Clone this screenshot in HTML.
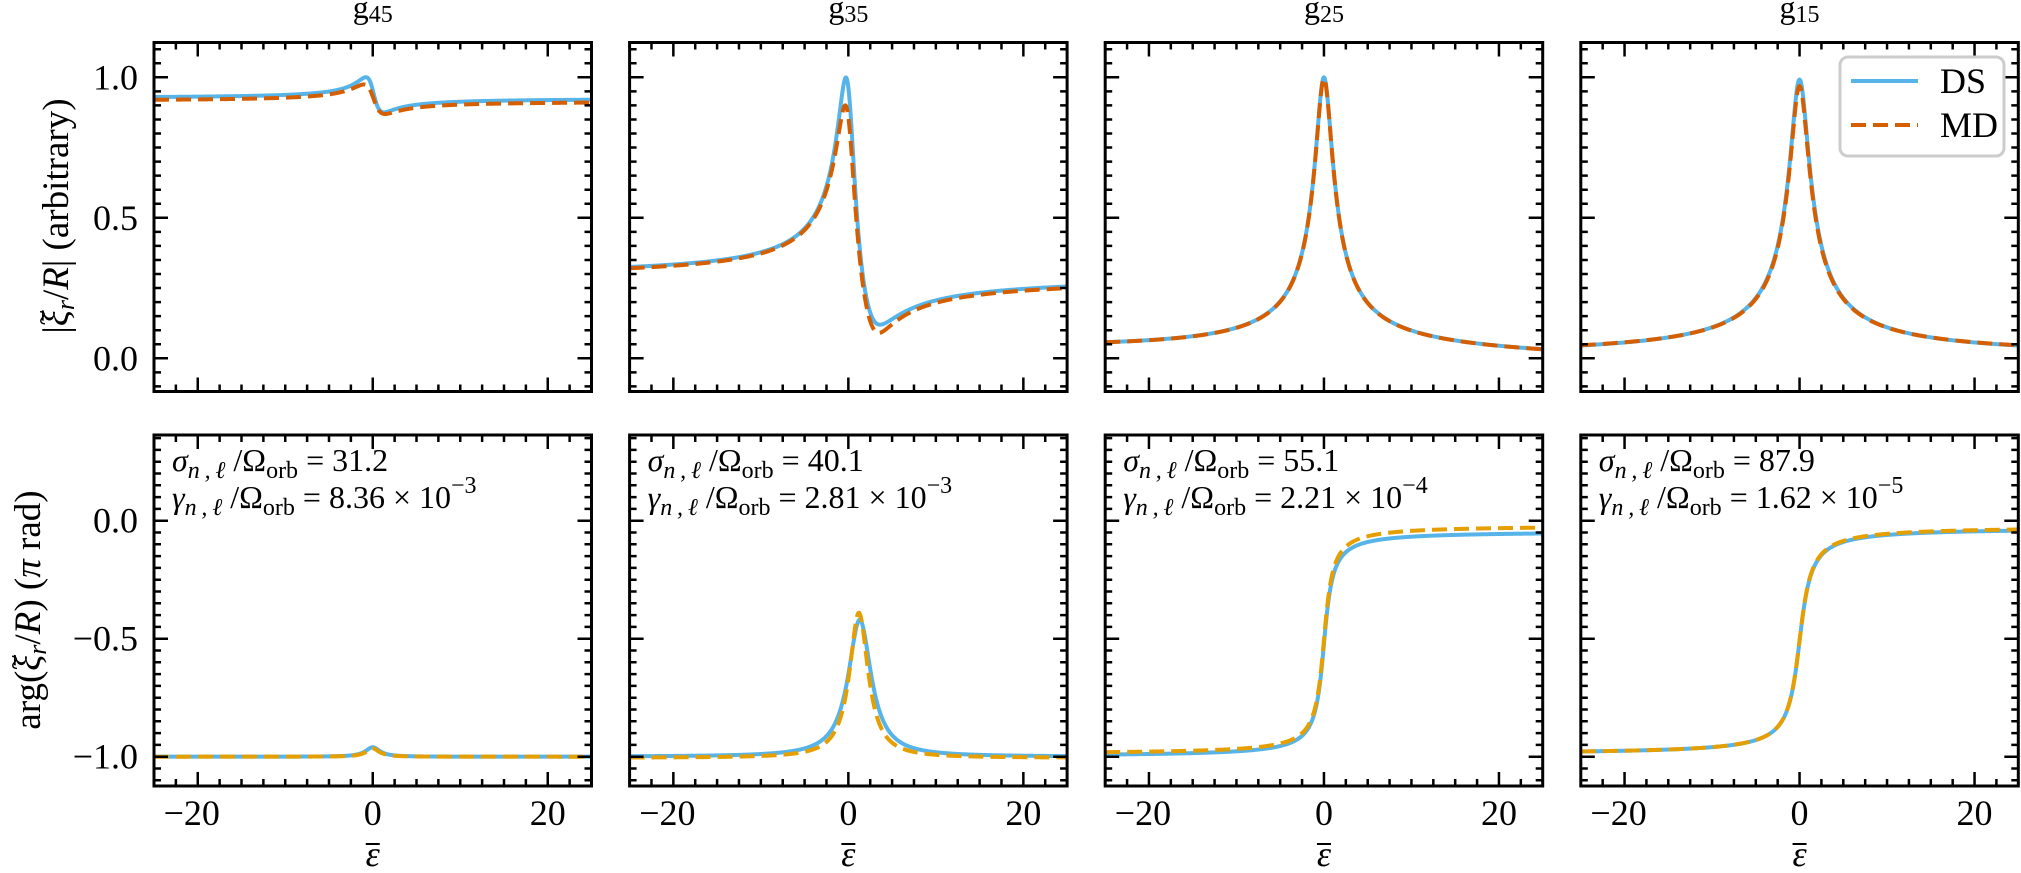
<!DOCTYPE html>
<html><head><meta charset="utf-8"><style>
html,body{margin:0;padding:0;background:#fff;}
svg{display:block;font-family:"Liberation Serif",serif;}
</style></head><body>
<svg id="s" width="2021" height="873" viewBox="0 0 2021 873" xmlns="http://www.w3.org/2000/svg"></svg>
<script>
const S=document.getElementById('s');
const NS='http://www.w3.org/2000/svg';
function el(t,a,p){const e=document.createElementNS(NS,t);for(const k in a)e.setAttribute(k,a[k]);(p||S).appendChild(e);return e;}
const L0=154,DX=475.6,W=437.5;
const rows=[{top:42.5,bot:391.5,z:358.3,k:281},{top:435,bot:786,z:520.7,k:236}];
function X(i,e){return L0+i*DX+(e+25)/50*W;}
function Y(r,v){return rows[r].z-rows[r].k*v;}
function fano(e,c,A,th,w){const x=e/w;const b=2*Math.atan(x);
 const re=c+A/2*Math.cos(th)+A/2*Math.cos(th+b);const im=A/2*Math.sin(th)+A/2*Math.sin(th+b);
 return [Math.hypot(re,im),Math.atan2(im,re)];}
const d2r=Math.PI/180;
const BLUE='#56B4E9',VER='#D55E00',ORA='#E69F00';
const fns=[
 [[e=>fano(e,0.925,0.125,80*d2r,1)[0], e=>fano(e,0.915,0.105,84*d2r,1.2)[0]],
  [e=>fano(e,0.29,0.88,82*d2r,1)[0], e=>fano(e,0.285,0.81,90*d2r,1.1)[0]],
  [e=>0.995/Math.sqrt(1+e*e)+0.005-0.0005*e, e=>0.99/Math.sqrt(1+e*e)+0.005-0.0005*e],
  [e=>0.99/Math.sqrt(1+(e/1.1)**2)+0.002, e=>0.965/Math.sqrt(1+(e/1.1)**2)+0.004]],
 [[e=>-1+0.04/(1+e*e), e=>-1+0.035/(1+(e/0.9)**2)],
  [e=>-1+0.58/(1+((e-1.3)/1.6)**2), e=>-1.005+0.615/(1+((e-1.2)/1.3)**2)],
  [e=>-1+0.955*(0.5+Math.atan(e/0.75)/Math.PI), e=>-0.99+0.97*(0.5+Math.atan(e/0.75)/Math.PI)],
  [e=>-0.99+0.96*(0.5+Math.atan(e/1.0)/Math.PI), e=>-0.99+0.965*(0.5+Math.atan(e/1.0)/Math.PI)]]
];
const defs=el('defs',{});
for(let r=0;r<2;r++)for(let i=0;i<4;i++){
 const cp=el('clipPath',{id:'c'+r+i},defs);
 el('rect',{x:L0+i*DX,y:rows[r].top,width:W,height:rows[r].bot-rows[r].top},cp);
}
for(let r=0;r<2;r++)for(let i=0;i<4;i++){
 for(let s=0;s<2;s++){
  let d='';
  for(let n=0;n<=1000;n++){const e=-25+50*n/1000;d+=(n?'L':'M')+X(i,e).toFixed(2)+','+Y(r,fns[r][i][s](e)).toFixed(2);}
  const a={d:d,fill:'none','stroke-width':4,'clip-path':'url(#c'+r+i+')','stroke-linejoin':'round'};
  if(s==0){a.stroke=BLUE;}else{a.stroke=r?ORA:VER;a['stroke-dasharray']='15,7';}
  el('path',a);
 }
 const x0=L0+i*DX,x1=x0+W,y0=rows[r].top,y1=rows[r].bot;
 let t='';
 for(let e=-25;e<=25.01;e+=2.5){const x=X(i,e);const maj=Math.abs(e%20)<0.01;const len=maj?14:7;
  t+=`M${x},${y1}v${-len}M${x},${y0}v${len}`;}
 const vmin=r?-1.1:-0.1,vmax=r?0.35:1.1;
 for(let v=vmin;v<=vmax+0.001;v+=0.05){const vv=Math.round(v*100)/100;const y=Y(r,vv);if(y<y0||y>y1)continue;
  const maj=Math.abs(Math.round(vv*100)%50)<1;const len=maj?14:7;
  t+=`M${x0},${y}h${len}M${x1},${y}h${-len}`;}
 el('path',{d:t,stroke:'#000','stroke-width':2.5,fill:'none'});
 el('rect',{x:x0,y:y0,width:W,height:y1-y0,fill:'none',stroke:'#000','stroke-width':3});
}
function txt(x,y,s,a){const e=el('text',Object.assign({x:x,y:y,'font-size':34},a||{}));e.innerHTML=s;return e;}
[['1.0',1],['0.5',0.5],['0.0',0]].forEach(([s,v])=>txt(138,Y(0,v)+12,s,{'text-anchor':'end','font-size':36}));
[['0.0',0],['\u22120.5',-0.5],['\u22121.0',-1]].forEach(([s,v])=>txt(138,Y(1,v)+12,s,{'text-anchor':'end','font-size':36}));
for(let i=0;i<4;i++){[['\u221220',-20],['0',0],['20',20]].forEach(([s,v])=>txt(X(i,v)+(v<0?-6:0),825,s,{'text-anchor':'middle','font-size':36}));
 txt(X(i,0),866,'<tspan font-style="italic">\u03B5</tspan>',{'text-anchor':'middle','font-size':36});
 el('path',{d:`M${X(i,0)-7},844h14`,stroke:'#000','stroke-width':2});}
['45','35','25','15'].forEach((s,i)=>txt(X(i,0),18,'g<tspan font-size="24" dy="4">'+s+'</tspan>',{'text-anchor':'middle','font-size':32}));
const xi='<tspan font-style="italic">\u03BE</tspan><tspan dx="-15" dy="-16" font-size="28">~</tspan><tspan font-size="26" dy="22" font-style="italic">r</tspan><tspan dy="-6">/</tspan><tspan font-style="italic">R</tspan>';
txt(0,0,'|'+xi+'| (arbitrary)',{'text-anchor':'middle','font-size':37,transform:'translate(68,216) rotate(-90)'});
txt(0,0,'arg('+xi+') (<tspan font-style="italic">\u03C0</tspan> rad)',{'text-anchor':'middle','font-size':37,transform:'translate(40,610) rotate(-90)'});
const ann=[['31.2','8.36','3'],['40.1','2.81','3'],['55.1','2.21','4'],['87.9','1.62','5']];
ann.forEach((a,i)=>{const x=L0+i*DX+18;
 const sub='<tspan font-size="24" dy="7" font-style="italic">n\u2009,\u2009\u2113</tspan><tspan dy="-7"> /\u03A9</tspan><tspan font-size="24" dy="7">orb</tspan><tspan dy="-7">  =  ';
 txt(x,471,'<tspan font-style="italic">\u03C3</tspan>'+sub+a[0]+'</tspan>',{'font-size':32,'xml:space':'preserve'});
 txt(x,508,'<tspan font-style="italic">\u03B3</tspan>'+sub+a[1]+' \u00D7 10</tspan><tspan font-size="24" dy="-15">\u2212'+a[2]+'</tspan>',{'font-size':32});
});
el('rect',{x:1840,y:57,width:164,height:99,rx:8,fill:'#fff',stroke:'#ccc','stroke-width':3});
el('path',{d:'M1851,81H1918',stroke:BLUE,'stroke-width':4});
el('path',{d:'M1851,125H1918',stroke:VER,'stroke-width':4,'stroke-dasharray':'15,7'});
txt(1940,93,'DS',{'font-size':36});txt(1940,137,'MD',{'font-size':36});
</script>
</body></html>
